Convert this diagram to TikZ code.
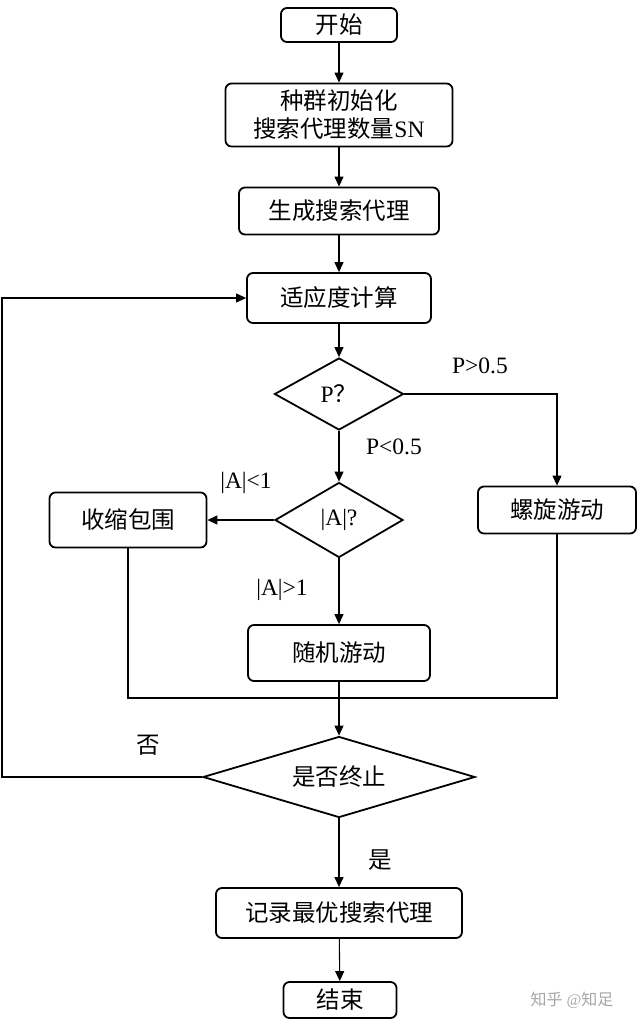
\documentclass[tikz,border=0pt]{standalone}
\usepackage{fontspec}
\setmainfont{Liberation Serif}
\newfontfamily\cjk{Noto Sans CJK SC}
\usetikzlibrary{shapes.geometric,arrows.meta}
\begin{document}
\begin{tikzpicture}[x=1pt,y=-1pt,
  box/.style={draw,line width=1.8pt,rounded corners=6pt,inner sep=0pt,align=center,font=\fontsize{23.5}{28}\selectfont},
  dia/.style={draw,diamond,line width=1.8pt,inner sep=0pt,font=\fontsize{23.5}{28}\selectfont},
  conn/.style={line width=1.1pt},
  arr/.style={conn,-{Triangle[length=10pt,width=9pt]}},
  lab/.style={font=\fontsize{23.5}{28}\selectfont}]
\useasboundingbox (0,0) rectangle (639,1029);
\node[box,minimum width=116pt,minimum height=34pt] (start) at (339,25) {\cjk 开始};
\node[box,minimum width=227pt,minimum height=63pt] (init) at (339,115) {{\cjk 种群初始化}\\{\cjk 搜索代理数量}SN};
\node[box,minimum width=200pt,minimum height=47pt] (gen) at (339,211) {\cjk 生成搜索代理};
\node[box,minimum width=184pt,minimum height=50pt] (fit) at (339,298) {\cjk 适应度计算};
\node[dia,aspect=1.8,minimum width=129pt,minimum height=72pt] (P) at (339,394) {P{\cjk ？}};
\node[box,minimum width=158pt,minimum height=47pt] (spiral) at (557,510) {\cjk 螺旋游动};
\node[dia,aspect=1.7,minimum width=128pt,minimum height=75pt] (A) at (339,520) {|A|?};
\node[box,minimum width=157pt,minimum height=55pt] (shrink) at (128,520) {\cjk 收缩包围};
\node[box,minimum width=182pt,minimum height=56pt] (rand) at (339,653) {\cjk 随机游动};
\node[dia,aspect=3.36,minimum width=272pt,minimum height=81pt] (term) at (339,777) {\cjk 是否终止};
\node[box,minimum width=246pt,minimum height=50pt] (rec) at (339,913) {\cjk 记录最优搜索代理};
\node[box,minimum width=113pt,minimum height=36pt] (end) at (340,1000) {\cjk 结束};
\node[lab] (l1) at (480,366) {P>0.5};
\node[lab] (l2) at (394,447) {P<0.5};
\node[lab] (l3) at (246,483) {|A|<1};
\node[lab] (l4) at (282,590) {|A|>1};
\node[lab] (l5) at (148,745) {\cjk 否};
\node[lab] (l6) at (380,860) {\cjk 是};
\node[font=\fontsize{16}{20}\selectfont,text=black!35] (wm) at (572,1000) {{\cjk 知乎} @{\cjk 知足}};
\coordinate (m) at (339,698);
\draw[arr] (start) -- (init);
\draw[arr] (init) -- (gen);
\draw[arr] (gen) -- (fit);
\draw[arr] (fit) -- (P);
\draw[arr] (P) -- (A);
\draw[arr] (P.east) -| (spiral.north);
\draw[arr] (A.west) -- (shrink.east);
\draw[arr] (A) -- (rand);
\draw[conn] (shrink.south) |- (m);
\draw[conn] (spiral.south) |- (m);
\draw[arr] (rand) -- (term);
\draw[arr] (term) -- (rec);
\draw[arr] (rec) -- (end);
\draw[arr] (term.west) -- (2,777) -- (2,298) -- (fit.west);
\end{tikzpicture}
\end{document}
